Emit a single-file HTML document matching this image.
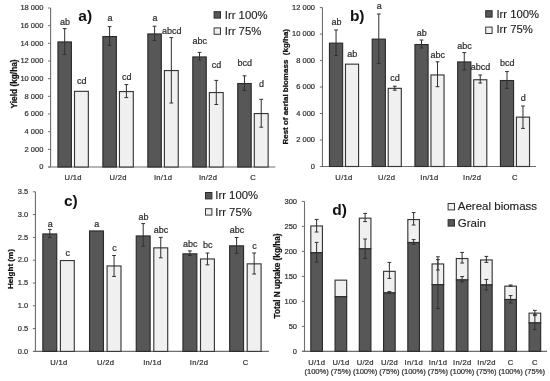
<!DOCTYPE html>
<html><head><meta charset="utf-8"><style>
html,body{margin:0;padding:0;background:#fff;}
body{width:550px;height:381px;overflow:hidden;}
svg{display:block;font-family:"Liberation Sans",sans-serif;will-change:transform;filter:blur(0.3px);}
</style></head><body>
<svg width="550" height="381" viewBox="0 0 550 381">
<rect width="550" height="381" fill="#fff"/>
<line x1="50.60" y1="8.00" x2="50.60" y2="167.00" stroke="#6e6e6e" stroke-width="1.1"/>
<line x1="48.00" y1="167.00" x2="50.60" y2="167.00" stroke="#6e6e6e" stroke-width="1"/>
<text x="43.40" y="169.20" font-size="7.5" text-anchor="end" font-weight="normal" fill="#333333" stroke="#333333" stroke-width="0.22" >0</text>
<line x1="48.00" y1="149.33" x2="50.60" y2="149.33" stroke="#6e6e6e" stroke-width="1"/>
<text x="43.40" y="151.53" font-size="7.5" text-anchor="end" font-weight="normal" fill="#333333" stroke="#333333" stroke-width="0.22" >2 000</text>
<line x1="48.00" y1="131.67" x2="50.60" y2="131.67" stroke="#6e6e6e" stroke-width="1"/>
<text x="43.40" y="133.87" font-size="7.5" text-anchor="end" font-weight="normal" fill="#333333" stroke="#333333" stroke-width="0.22" >4 000</text>
<line x1="48.00" y1="114.00" x2="50.60" y2="114.00" stroke="#6e6e6e" stroke-width="1"/>
<text x="43.40" y="116.20" font-size="7.5" text-anchor="end" font-weight="normal" fill="#333333" stroke="#333333" stroke-width="0.22" >6 000</text>
<line x1="48.00" y1="96.33" x2="50.60" y2="96.33" stroke="#6e6e6e" stroke-width="1"/>
<text x="43.40" y="98.53" font-size="7.5" text-anchor="end" font-weight="normal" fill="#333333" stroke="#333333" stroke-width="0.22" >8 000</text>
<line x1="48.00" y1="78.67" x2="50.60" y2="78.67" stroke="#6e6e6e" stroke-width="1"/>
<text x="43.40" y="80.87" font-size="7.5" text-anchor="end" font-weight="normal" fill="#333333" stroke="#333333" stroke-width="0.22" >10 000</text>
<line x1="48.00" y1="61.00" x2="50.60" y2="61.00" stroke="#6e6e6e" stroke-width="1"/>
<text x="43.40" y="63.20" font-size="7.5" text-anchor="end" font-weight="normal" fill="#333333" stroke="#333333" stroke-width="0.22" >12 000</text>
<line x1="48.00" y1="43.33" x2="50.60" y2="43.33" stroke="#6e6e6e" stroke-width="1"/>
<text x="43.40" y="45.53" font-size="7.5" text-anchor="end" font-weight="normal" fill="#333333" stroke="#333333" stroke-width="0.22" >14 000</text>
<line x1="48.00" y1="25.67" x2="50.60" y2="25.67" stroke="#6e6e6e" stroke-width="1"/>
<text x="43.40" y="27.87" font-size="7.5" text-anchor="end" font-weight="normal" fill="#333333" stroke="#333333" stroke-width="0.22" >16 000</text>
<line x1="48.00" y1="8.00" x2="50.60" y2="8.00" stroke="#6e6e6e" stroke-width="1"/>
<text x="43.40" y="10.20" font-size="7.5" text-anchor="end" font-weight="normal" fill="#333333" stroke="#333333" stroke-width="0.22" >18 000</text>
<line x1="48.50" y1="167.00" x2="275.35" y2="167.00" stroke="#6e6e6e" stroke-width="1.1"/>
<rect x="57.95" y="41.95" width="13.45" height="125.05" fill="#575757" stroke="#2b2b2b" stroke-width="1.15"/>
<rect x="74.50" y="91.35" width="13.85" height="75.65" fill="#f0f0f0" stroke="#383838" stroke-width="1.15"/>
<rect x="102.90" y="36.55" width="13.45" height="130.45" fill="#575757" stroke="#2b2b2b" stroke-width="1.15"/>
<rect x="119.45" y="91.55" width="13.85" height="75.45" fill="#f0f0f0" stroke="#383838" stroke-width="1.15"/>
<rect x="147.85" y="33.95" width="13.45" height="133.05" fill="#575757" stroke="#2b2b2b" stroke-width="1.15"/>
<rect x="164.40" y="70.55" width="13.85" height="96.45" fill="#f0f0f0" stroke="#383838" stroke-width="1.15"/>
<rect x="192.80" y="56.95" width="13.45" height="110.05" fill="#575757" stroke="#2b2b2b" stroke-width="1.15"/>
<rect x="209.35" y="92.55" width="13.85" height="74.45" fill="#f0f0f0" stroke="#383838" stroke-width="1.15"/>
<rect x="237.75" y="83.55" width="13.45" height="83.45" fill="#575757" stroke="#2b2b2b" stroke-width="1.15"/>
<rect x="254.30" y="113.55" width="13.85" height="53.45" fill="#f0f0f0" stroke="#383838" stroke-width="1.15"/>
<line x1="64.68" y1="28.60" x2="64.68" y2="54.40" stroke="#303030" stroke-width="1"/>
<line x1="62.78" y1="28.60" x2="66.58" y2="28.60" stroke="#303030" stroke-width="1"/>
<line x1="62.78" y1="54.40" x2="66.58" y2="54.40" stroke="#303030" stroke-width="1"/>
<text x="65.03" y="25.20" font-size="9" text-anchor="middle" font-weight="normal" fill="#2e2e2e" stroke="#2e2e2e" stroke-width="0.22" >ab</text>
<text x="81.77" y="83.80" font-size="9" text-anchor="middle" font-weight="normal" fill="#2e2e2e" stroke="#2e2e2e" stroke-width="0.22" >cd</text>
<line x1="109.62" y1="26.60" x2="109.62" y2="45.40" stroke="#303030" stroke-width="1"/>
<line x1="107.72" y1="26.60" x2="111.53" y2="26.60" stroke="#303030" stroke-width="1"/>
<line x1="107.72" y1="45.40" x2="111.53" y2="45.40" stroke="#303030" stroke-width="1"/>
<text x="109.97" y="21.40" font-size="9" text-anchor="middle" font-weight="normal" fill="#2e2e2e" stroke="#2e2e2e" stroke-width="0.22" >a</text>
<line x1="126.38" y1="84.60" x2="126.38" y2="97.60" stroke="#303030" stroke-width="1"/>
<line x1="124.47" y1="84.60" x2="128.28" y2="84.60" stroke="#303030" stroke-width="1"/>
<line x1="124.47" y1="97.60" x2="128.28" y2="97.60" stroke="#303030" stroke-width="1"/>
<text x="126.72" y="80.40" font-size="9" text-anchor="middle" font-weight="normal" fill="#2e2e2e" stroke="#2e2e2e" stroke-width="0.22" >cd</text>
<line x1="154.58" y1="26.20" x2="154.58" y2="40.40" stroke="#303030" stroke-width="1"/>
<line x1="152.68" y1="26.20" x2="156.48" y2="26.20" stroke="#303030" stroke-width="1"/>
<line x1="152.68" y1="40.40" x2="156.48" y2="40.40" stroke="#303030" stroke-width="1"/>
<text x="154.93" y="21.40" font-size="9" text-anchor="middle" font-weight="normal" fill="#2e2e2e" stroke="#2e2e2e" stroke-width="0.22" >a</text>
<line x1="171.33" y1="37.60" x2="171.33" y2="103.00" stroke="#303030" stroke-width="1"/>
<line x1="169.43" y1="37.60" x2="173.23" y2="37.60" stroke="#303030" stroke-width="1"/>
<line x1="169.43" y1="103.00" x2="173.23" y2="103.00" stroke="#303030" stroke-width="1"/>
<text x="171.68" y="34.00" font-size="9" text-anchor="middle" font-weight="normal" fill="#2e2e2e" stroke="#2e2e2e" stroke-width="0.22" >abcd</text>
<line x1="199.53" y1="52.40" x2="199.53" y2="60.00" stroke="#303030" stroke-width="1"/>
<line x1="197.63" y1="52.40" x2="201.43" y2="52.40" stroke="#303030" stroke-width="1"/>
<line x1="197.63" y1="60.00" x2="201.43" y2="60.00" stroke="#303030" stroke-width="1"/>
<text x="199.88" y="44.00" font-size="9" text-anchor="middle" font-weight="normal" fill="#2e2e2e" stroke="#2e2e2e" stroke-width="0.22" >abc</text>
<line x1="216.28" y1="80.40" x2="216.28" y2="104.50" stroke="#303030" stroke-width="1"/>
<line x1="214.38" y1="80.40" x2="218.18" y2="80.40" stroke="#303030" stroke-width="1"/>
<line x1="214.38" y1="104.50" x2="218.18" y2="104.50" stroke="#303030" stroke-width="1"/>
<text x="216.62" y="68.00" font-size="9" text-anchor="middle" font-weight="normal" fill="#2e2e2e" stroke="#2e2e2e" stroke-width="0.22" >cd</text>
<line x1="244.48" y1="75.80" x2="244.48" y2="90.30" stroke="#303030" stroke-width="1"/>
<line x1="242.58" y1="75.80" x2="246.38" y2="75.80" stroke="#303030" stroke-width="1"/>
<line x1="242.58" y1="90.30" x2="246.38" y2="90.30" stroke="#303030" stroke-width="1"/>
<text x="244.83" y="66.00" font-size="9" text-anchor="middle" font-weight="normal" fill="#2e2e2e" stroke="#2e2e2e" stroke-width="0.22" >bcd</text>
<line x1="261.23" y1="99.30" x2="261.23" y2="127.20" stroke="#303030" stroke-width="1"/>
<line x1="259.33" y1="99.30" x2="263.12" y2="99.30" stroke="#303030" stroke-width="1"/>
<line x1="259.33" y1="127.20" x2="263.12" y2="127.20" stroke="#303030" stroke-width="1"/>
<text x="261.58" y="86.90" font-size="9" text-anchor="middle" font-weight="normal" fill="#2e2e2e" stroke="#2e2e2e" stroke-width="0.22" >d</text>
<text x="73.23" y="180.10" font-size="7.6" text-anchor="middle" font-weight="normal" fill="#333333" stroke="#333333" stroke-width="0.22" letter-spacing="0.3">U/1d</text>
<text x="118.18" y="180.10" font-size="7.6" text-anchor="middle" font-weight="normal" fill="#333333" stroke="#333333" stroke-width="0.22" letter-spacing="0.3">U/2d</text>
<text x="163.12" y="180.10" font-size="7.6" text-anchor="middle" font-weight="normal" fill="#333333" stroke="#333333" stroke-width="0.22" letter-spacing="0.3">In/1d</text>
<text x="208.08" y="180.10" font-size="7.6" text-anchor="middle" font-weight="normal" fill="#333333" stroke="#333333" stroke-width="0.22" letter-spacing="0.3">In/2d</text>
<text x="253.03" y="180.10" font-size="7.6" text-anchor="middle" font-weight="normal" fill="#333333" stroke="#333333" stroke-width="0.22" letter-spacing="0.3">C</text>
<text x="0" y="0" font-size="8.3" font-weight="bold" fill="#111" stroke="#111" stroke-width="0.25" text-anchor="middle" transform="translate(14.00,83.90) rotate(-90)" dominant-baseline="central">Yield (kg/ha)</text>
<text x="85.20" y="20.70" font-size="15.5" text-anchor="middle" font-weight="bold" fill="#111" >a)</text>
<rect x="214.10" y="11.70" width="6.4" height="6.4" fill="#575757" stroke="#2b2b2b" stroke-width="1"/>
<text x="224.80" y="18.70" font-size="11.3" text-anchor="start" font-weight="normal" fill="#1e1e1e" stroke="#1e1e1e" stroke-width="0.15" >Irr 100%</text>
<rect x="214.10" y="27.90" width="6.4" height="6.4" fill="#f0f0f0" stroke="#383838" stroke-width="1"/>
<text x="224.80" y="34.80" font-size="11.3" text-anchor="start" font-weight="normal" fill="#1e1e1e" stroke="#1e1e1e" stroke-width="0.15" >Irr 75%</text>
<line x1="322.45" y1="7.60" x2="322.45" y2="166.50" stroke="#6e6e6e" stroke-width="1.1"/>
<line x1="319.85" y1="166.50" x2="322.45" y2="166.50" stroke="#6e6e6e" stroke-width="1"/>
<text x="315.00" y="168.70" font-size="7.5" text-anchor="end" font-weight="normal" fill="#333333" stroke="#333333" stroke-width="0.22" >0</text>
<line x1="319.85" y1="140.02" x2="322.45" y2="140.02" stroke="#6e6e6e" stroke-width="1"/>
<text x="315.00" y="142.22" font-size="7.5" text-anchor="end" font-weight="normal" fill="#333333" stroke="#333333" stroke-width="0.22" >2 000</text>
<line x1="319.85" y1="113.53" x2="322.45" y2="113.53" stroke="#6e6e6e" stroke-width="1"/>
<text x="315.00" y="115.73" font-size="7.5" text-anchor="end" font-weight="normal" fill="#333333" stroke="#333333" stroke-width="0.22" >4 000</text>
<line x1="319.85" y1="87.05" x2="322.45" y2="87.05" stroke="#6e6e6e" stroke-width="1"/>
<text x="315.00" y="89.25" font-size="7.5" text-anchor="end" font-weight="normal" fill="#333333" stroke="#333333" stroke-width="0.22" >6 000</text>
<line x1="319.85" y1="60.57" x2="322.45" y2="60.57" stroke="#6e6e6e" stroke-width="1"/>
<text x="315.00" y="62.77" font-size="7.5" text-anchor="end" font-weight="normal" fill="#333333" stroke="#333333" stroke-width="0.22" >8 000</text>
<line x1="319.85" y1="34.08" x2="322.45" y2="34.08" stroke="#6e6e6e" stroke-width="1"/>
<text x="315.00" y="36.28" font-size="7.5" text-anchor="end" font-weight="normal" fill="#333333" stroke="#333333" stroke-width="0.22" >10 000</text>
<line x1="319.85" y1="7.60" x2="322.45" y2="7.60" stroke="#6e6e6e" stroke-width="1"/>
<text x="315.00" y="9.80" font-size="7.5" text-anchor="end" font-weight="normal" fill="#333333" stroke="#333333" stroke-width="0.22" >12 000</text>
<line x1="320.50" y1="166.50" x2="536.10" y2="166.50" stroke="#6e6e6e" stroke-width="1.1"/>
<rect x="329.47" y="43.15" width="13.15" height="123.35" fill="#575757" stroke="#2b2b2b" stroke-width="1.15"/>
<rect x="345.47" y="64.15" width="13.10" height="102.35" fill="#f0f0f0" stroke="#383838" stroke-width="1.15"/>
<rect x="372.21" y="39.15" width="13.15" height="127.35" fill="#575757" stroke="#2b2b2b" stroke-width="1.15"/>
<rect x="388.21" y="88.35" width="13.10" height="78.15" fill="#f0f0f0" stroke="#383838" stroke-width="1.15"/>
<rect x="414.95" y="44.55" width="13.15" height="121.95" fill="#575757" stroke="#2b2b2b" stroke-width="1.15"/>
<rect x="430.95" y="74.95" width="13.10" height="91.55" fill="#f0f0f0" stroke="#383838" stroke-width="1.15"/>
<rect x="457.69" y="61.95" width="13.15" height="104.55" fill="#575757" stroke="#2b2b2b" stroke-width="1.15"/>
<rect x="473.69" y="79.75" width="13.10" height="86.75" fill="#f0f0f0" stroke="#383838" stroke-width="1.15"/>
<rect x="500.43" y="80.55" width="13.15" height="85.95" fill="#575757" stroke="#2b2b2b" stroke-width="1.15"/>
<rect x="516.43" y="117.15" width="13.10" height="49.35" fill="#f0f0f0" stroke="#383838" stroke-width="1.15"/>
<line x1="336.05" y1="30.00" x2="336.05" y2="55.60" stroke="#303030" stroke-width="1"/>
<line x1="334.15" y1="30.00" x2="337.94" y2="30.00" stroke="#303030" stroke-width="1"/>
<line x1="334.15" y1="55.60" x2="337.94" y2="55.60" stroke="#303030" stroke-width="1"/>
<text x="336.40" y="24.60" font-size="9" text-anchor="middle" font-weight="normal" fill="#2e2e2e" stroke="#2e2e2e" stroke-width="0.22" >ab</text>
<text x="352.37" y="56.60" font-size="9" text-anchor="middle" font-weight="normal" fill="#2e2e2e" stroke="#2e2e2e" stroke-width="0.22" >ab</text>
<line x1="378.79" y1="14.00" x2="378.79" y2="63.40" stroke="#303030" stroke-width="1"/>
<line x1="376.89" y1="14.00" x2="380.69" y2="14.00" stroke="#303030" stroke-width="1"/>
<line x1="376.89" y1="63.40" x2="380.69" y2="63.40" stroke="#303030" stroke-width="1"/>
<text x="379.14" y="9.40" font-size="9" text-anchor="middle" font-weight="normal" fill="#2e2e2e" stroke="#2e2e2e" stroke-width="0.22" >a</text>
<line x1="394.76" y1="86.20" x2="394.76" y2="90.20" stroke="#303030" stroke-width="1"/>
<line x1="392.86" y1="86.20" x2="396.66" y2="86.20" stroke="#303030" stroke-width="1"/>
<line x1="392.86" y1="90.20" x2="396.66" y2="90.20" stroke="#303030" stroke-width="1"/>
<text x="395.11" y="81.10" font-size="9" text-anchor="middle" font-weight="normal" fill="#2e2e2e" stroke="#2e2e2e" stroke-width="0.22" >cd</text>
<line x1="421.53" y1="40.00" x2="421.53" y2="48.00" stroke="#303030" stroke-width="1"/>
<line x1="419.63" y1="40.00" x2="423.43" y2="40.00" stroke="#303030" stroke-width="1"/>
<line x1="419.63" y1="48.00" x2="423.43" y2="48.00" stroke="#303030" stroke-width="1"/>
<text x="421.88" y="36.00" font-size="9" text-anchor="middle" font-weight="normal" fill="#2e2e2e" stroke="#2e2e2e" stroke-width="0.22" >ab</text>
<line x1="437.50" y1="61.80" x2="437.50" y2="86.70" stroke="#303030" stroke-width="1"/>
<line x1="435.60" y1="61.80" x2="439.40" y2="61.80" stroke="#303030" stroke-width="1"/>
<line x1="435.60" y1="86.70" x2="439.40" y2="86.70" stroke="#303030" stroke-width="1"/>
<text x="437.85" y="58.30" font-size="9" text-anchor="middle" font-weight="normal" fill="#2e2e2e" stroke="#2e2e2e" stroke-width="0.22" >abc</text>
<line x1="464.26" y1="52.60" x2="464.26" y2="70.00" stroke="#303030" stroke-width="1"/>
<line x1="462.37" y1="52.60" x2="466.16" y2="52.60" stroke="#303030" stroke-width="1"/>
<line x1="462.37" y1="70.00" x2="466.16" y2="70.00" stroke="#303030" stroke-width="1"/>
<text x="464.62" y="48.60" font-size="9" text-anchor="middle" font-weight="normal" fill="#2e2e2e" stroke="#2e2e2e" stroke-width="0.22" >abc</text>
<line x1="480.24" y1="75.00" x2="480.24" y2="83.00" stroke="#303030" stroke-width="1"/>
<line x1="478.34" y1="75.00" x2="482.14" y2="75.00" stroke="#303030" stroke-width="1"/>
<line x1="478.34" y1="83.00" x2="482.14" y2="83.00" stroke="#303030" stroke-width="1"/>
<text x="480.59" y="69.60" font-size="9" text-anchor="middle" font-weight="normal" fill="#2e2e2e" stroke="#2e2e2e" stroke-width="0.22" >abcd</text>
<line x1="507.00" y1="71.60" x2="507.00" y2="88.40" stroke="#303030" stroke-width="1"/>
<line x1="505.11" y1="71.60" x2="508.90" y2="71.60" stroke="#303030" stroke-width="1"/>
<line x1="505.11" y1="88.40" x2="508.90" y2="88.40" stroke="#303030" stroke-width="1"/>
<text x="507.36" y="66.00" font-size="9" text-anchor="middle" font-weight="normal" fill="#2e2e2e" stroke="#2e2e2e" stroke-width="0.22" >bcd</text>
<line x1="522.98" y1="106.00" x2="522.98" y2="128.40" stroke="#303030" stroke-width="1"/>
<line x1="521.08" y1="106.00" x2="524.88" y2="106.00" stroke="#303030" stroke-width="1"/>
<line x1="521.08" y1="128.40" x2="524.88" y2="128.40" stroke="#303030" stroke-width="1"/>
<text x="523.33" y="101.20" font-size="9" text-anchor="middle" font-weight="normal" fill="#2e2e2e" stroke="#2e2e2e" stroke-width="0.22" >d</text>
<text x="343.97" y="179.90" font-size="7.6" text-anchor="middle" font-weight="normal" fill="#333333" stroke="#333333" stroke-width="0.22" letter-spacing="0.3">U/1d</text>
<text x="386.71" y="179.90" font-size="7.6" text-anchor="middle" font-weight="normal" fill="#333333" stroke="#333333" stroke-width="0.22" letter-spacing="0.3">U/2d</text>
<text x="429.45" y="179.90" font-size="7.6" text-anchor="middle" font-weight="normal" fill="#333333" stroke="#333333" stroke-width="0.22" letter-spacing="0.3">In/1d</text>
<text x="472.19" y="179.90" font-size="7.6" text-anchor="middle" font-weight="normal" fill="#333333" stroke="#333333" stroke-width="0.22" letter-spacing="0.3">In/2d</text>
<text x="514.93" y="179.90" font-size="7.6" text-anchor="middle" font-weight="normal" fill="#333333" stroke="#333333" stroke-width="0.22" letter-spacing="0.3">C</text>
<text x="0" y="0" font-size="8" font-weight="bold" fill="#111" stroke="#111" stroke-width="0.25" text-anchor="middle" transform="translate(285.80,86.80) rotate(-90)" dominant-baseline="central">Rest of aerial biomass&#160;&#160;(kg/ha)</text>
<text x="357.20" y="20.90" font-size="15.5" text-anchor="middle" font-weight="bold" fill="#111" >b)</text>
<rect x="485.70" y="10.70" width="6.4" height="6.4" fill="#575757" stroke="#2b2b2b" stroke-width="1"/>
<text x="496.40" y="17.50" font-size="11.3" text-anchor="start" font-weight="normal" fill="#1e1e1e" stroke="#1e1e1e" stroke-width="0.15" >Irr 100%</text>
<rect x="485.70" y="27.10" width="6.4" height="6.4" fill="#f0f0f0" stroke="#383838" stroke-width="1"/>
<text x="496.40" y="33.40" font-size="11.3" text-anchor="start" font-weight="normal" fill="#1e1e1e" stroke="#1e1e1e" stroke-width="0.15" >Irr 75%</text>
<line x1="35.45" y1="191.80" x2="35.45" y2="351.40" stroke="#6e6e6e" stroke-width="1.1"/>
<line x1="32.85" y1="351.40" x2="35.45" y2="351.40" stroke="#6e6e6e" stroke-width="1"/>
<text x="28.20" y="353.60" font-size="7.5" text-anchor="end" font-weight="normal" fill="#333333" stroke="#333333" stroke-width="0.22" >0.0</text>
<line x1="32.85" y1="328.60" x2="35.45" y2="328.60" stroke="#6e6e6e" stroke-width="1"/>
<text x="28.20" y="330.80" font-size="7.5" text-anchor="end" font-weight="normal" fill="#333333" stroke="#333333" stroke-width="0.22" >0.5</text>
<line x1="32.85" y1="305.80" x2="35.45" y2="305.80" stroke="#6e6e6e" stroke-width="1"/>
<text x="28.20" y="308.00" font-size="7.5" text-anchor="end" font-weight="normal" fill="#333333" stroke="#333333" stroke-width="0.22" >1.0</text>
<line x1="32.85" y1="283.00" x2="35.45" y2="283.00" stroke="#6e6e6e" stroke-width="1"/>
<text x="28.20" y="285.20" font-size="7.5" text-anchor="end" font-weight="normal" fill="#333333" stroke="#333333" stroke-width="0.22" >1.5</text>
<line x1="32.85" y1="260.20" x2="35.45" y2="260.20" stroke="#6e6e6e" stroke-width="1"/>
<text x="28.20" y="262.40" font-size="7.5" text-anchor="end" font-weight="normal" fill="#333333" stroke="#333333" stroke-width="0.22" >2.0</text>
<line x1="32.85" y1="237.40" x2="35.45" y2="237.40" stroke="#6e6e6e" stroke-width="1"/>
<text x="28.20" y="239.60" font-size="7.5" text-anchor="end" font-weight="normal" fill="#333333" stroke="#333333" stroke-width="0.22" >2.5</text>
<line x1="32.85" y1="214.60" x2="35.45" y2="214.60" stroke="#6e6e6e" stroke-width="1"/>
<text x="28.20" y="216.80" font-size="7.5" text-anchor="end" font-weight="normal" fill="#333333" stroke="#333333" stroke-width="0.22" >3.0</text>
<line x1="32.85" y1="191.80" x2="35.45" y2="191.80" stroke="#6e6e6e" stroke-width="1"/>
<text x="28.20" y="194.00" font-size="7.5" text-anchor="end" font-weight="normal" fill="#333333" stroke="#333333" stroke-width="0.22" >3.5</text>
<line x1="33.30" y1="351.40" x2="268.95" y2="351.40" stroke="#6e6e6e" stroke-width="1.1"/>
<rect x="42.85" y="233.95" width="13.90" height="117.45" fill="#575757" stroke="#2b2b2b" stroke-width="1.15"/>
<rect x="60.40" y="260.55" width="13.90" height="90.85" fill="#f0f0f0" stroke="#383838" stroke-width="1.15"/>
<rect x="89.55" y="230.95" width="13.90" height="120.45" fill="#575757" stroke="#2b2b2b" stroke-width="1.15"/>
<rect x="107.10" y="265.95" width="13.90" height="85.45" fill="#f0f0f0" stroke="#383838" stroke-width="1.15"/>
<rect x="136.25" y="235.95" width="13.90" height="115.45" fill="#575757" stroke="#2b2b2b" stroke-width="1.15"/>
<rect x="153.80" y="247.85" width="13.90" height="103.55" fill="#f0f0f0" stroke="#383838" stroke-width="1.15"/>
<rect x="182.95" y="253.85" width="13.90" height="97.55" fill="#575757" stroke="#2b2b2b" stroke-width="1.15"/>
<rect x="200.50" y="258.95" width="13.90" height="92.45" fill="#f0f0f0" stroke="#383838" stroke-width="1.15"/>
<rect x="229.65" y="245.85" width="13.90" height="105.55" fill="#575757" stroke="#2b2b2b" stroke-width="1.15"/>
<rect x="247.20" y="263.85" width="13.90" height="87.55" fill="#f0f0f0" stroke="#383838" stroke-width="1.15"/>
<line x1="49.80" y1="229.40" x2="49.80" y2="237.60" stroke="#303030" stroke-width="1"/>
<line x1="47.90" y1="229.40" x2="51.70" y2="229.40" stroke="#303030" stroke-width="1"/>
<line x1="47.90" y1="237.60" x2="51.70" y2="237.60" stroke="#303030" stroke-width="1"/>
<text x="50.15" y="226.60" font-size="9" text-anchor="middle" font-weight="normal" fill="#2e2e2e" stroke="#2e2e2e" stroke-width="0.22" >a</text>
<text x="67.70" y="255.60" font-size="9" text-anchor="middle" font-weight="normal" fill="#2e2e2e" stroke="#2e2e2e" stroke-width="0.22" >c</text>
<text x="96.85" y="226.60" font-size="9" text-anchor="middle" font-weight="normal" fill="#2e2e2e" stroke="#2e2e2e" stroke-width="0.22" >a</text>
<line x1="114.05" y1="255.50" x2="114.05" y2="276.40" stroke="#303030" stroke-width="1"/>
<line x1="112.15" y1="255.50" x2="115.95" y2="255.50" stroke="#303030" stroke-width="1"/>
<line x1="112.15" y1="276.40" x2="115.95" y2="276.40" stroke="#303030" stroke-width="1"/>
<text x="114.40" y="251.10" font-size="9" text-anchor="middle" font-weight="normal" fill="#2e2e2e" stroke="#2e2e2e" stroke-width="0.22" >c</text>
<line x1="143.20" y1="223.60" x2="143.20" y2="246.30" stroke="#303030" stroke-width="1"/>
<line x1="141.30" y1="223.60" x2="145.10" y2="223.60" stroke="#303030" stroke-width="1"/>
<line x1="141.30" y1="246.30" x2="145.10" y2="246.30" stroke="#303030" stroke-width="1"/>
<text x="143.55" y="220.00" font-size="9" text-anchor="middle" font-weight="normal" fill="#2e2e2e" stroke="#2e2e2e" stroke-width="0.22" >ab</text>
<line x1="160.75" y1="237.40" x2="160.75" y2="257.80" stroke="#303030" stroke-width="1"/>
<line x1="158.85" y1="237.40" x2="162.65" y2="237.40" stroke="#303030" stroke-width="1"/>
<line x1="158.85" y1="257.80" x2="162.65" y2="257.80" stroke="#303030" stroke-width="1"/>
<text x="161.10" y="233.20" font-size="9" text-anchor="middle" font-weight="normal" fill="#2e2e2e" stroke="#2e2e2e" stroke-width="0.22" >abc</text>
<line x1="189.90" y1="250.90" x2="189.90" y2="255.50" stroke="#303030" stroke-width="1"/>
<line x1="188.00" y1="250.90" x2="191.80" y2="250.90" stroke="#303030" stroke-width="1"/>
<line x1="188.00" y1="255.50" x2="191.80" y2="255.50" stroke="#303030" stroke-width="1"/>
<text x="190.25" y="246.90" font-size="9" text-anchor="middle" font-weight="normal" fill="#2e2e2e" stroke="#2e2e2e" stroke-width="0.22" >abc</text>
<line x1="207.45" y1="253.00" x2="207.45" y2="264.80" stroke="#303030" stroke-width="1"/>
<line x1="205.55" y1="253.00" x2="209.35" y2="253.00" stroke="#303030" stroke-width="1"/>
<line x1="205.55" y1="264.80" x2="209.35" y2="264.80" stroke="#303030" stroke-width="1"/>
<text x="207.80" y="248.20" font-size="9" text-anchor="middle" font-weight="normal" fill="#2e2e2e" stroke="#2e2e2e" stroke-width="0.22" >bc</text>
<line x1="236.60" y1="237.50" x2="236.60" y2="253.30" stroke="#303030" stroke-width="1"/>
<line x1="234.70" y1="237.50" x2="238.50" y2="237.50" stroke="#303030" stroke-width="1"/>
<line x1="234.70" y1="253.30" x2="238.50" y2="253.30" stroke="#303030" stroke-width="1"/>
<text x="236.95" y="233.20" font-size="9" text-anchor="middle" font-weight="normal" fill="#2e2e2e" stroke="#2e2e2e" stroke-width="0.22" >abc</text>
<line x1="254.15" y1="253.00" x2="254.15" y2="274.00" stroke="#303030" stroke-width="1"/>
<line x1="252.25" y1="253.00" x2="256.05" y2="253.00" stroke="#303030" stroke-width="1"/>
<line x1="252.25" y1="274.00" x2="256.05" y2="274.00" stroke="#303030" stroke-width="1"/>
<text x="254.50" y="248.50" font-size="9" text-anchor="middle" font-weight="normal" fill="#2e2e2e" stroke="#2e2e2e" stroke-width="0.22" >c</text>
<text x="58.95" y="365.20" font-size="7.6" text-anchor="middle" font-weight="normal" fill="#333333" stroke="#333333" stroke-width="0.22" letter-spacing="0.3">U/1d</text>
<text x="105.65" y="365.20" font-size="7.6" text-anchor="middle" font-weight="normal" fill="#333333" stroke="#333333" stroke-width="0.22" letter-spacing="0.3">U/2d</text>
<text x="152.35" y="365.20" font-size="7.6" text-anchor="middle" font-weight="normal" fill="#333333" stroke="#333333" stroke-width="0.22" letter-spacing="0.3">In/1d</text>
<text x="199.05" y="365.20" font-size="7.6" text-anchor="middle" font-weight="normal" fill="#333333" stroke="#333333" stroke-width="0.22" letter-spacing="0.3">In/2d</text>
<text x="245.75" y="365.20" font-size="7.6" text-anchor="middle" font-weight="normal" fill="#333333" stroke="#333333" stroke-width="0.22" letter-spacing="0.3">C</text>
<text x="0" y="0" font-size="8.1" font-weight="bold" fill="#111" stroke="#111" stroke-width="0.25" text-anchor="middle" transform="translate(10.90,269.10) rotate(-90)" dominant-baseline="central">Height (m)</text>
<text x="70.90" y="206.10" font-size="15.5" text-anchor="middle" font-weight="bold" fill="#111" >c)</text>
<rect x="205.50" y="192.50" width="6.4" height="6.4" fill="#575757" stroke="#2b2b2b" stroke-width="1"/>
<text x="215.30" y="199.40" font-size="11.3" text-anchor="start" font-weight="normal" fill="#1e1e1e" stroke="#1e1e1e" stroke-width="0.15" >Irr 100%</text>
<rect x="205.50" y="208.70" width="6.4" height="6.4" fill="#f0f0f0" stroke="#383838" stroke-width="1"/>
<text x="215.30" y="215.50" font-size="11.3" text-anchor="start" font-weight="normal" fill="#1e1e1e" stroke="#1e1e1e" stroke-width="0.15" >Irr 75%</text>
<line x1="304.50" y1="201.40" x2="304.50" y2="351.35" stroke="#6e6e6e" stroke-width="1.1"/>
<line x1="301.90" y1="351.35" x2="304.50" y2="351.35" stroke="#6e6e6e" stroke-width="1"/>
<text x="297.00" y="353.55" font-size="7.5" text-anchor="end" font-weight="normal" fill="#333333" stroke="#333333" stroke-width="0.22" >0</text>
<line x1="301.90" y1="326.36" x2="304.50" y2="326.36" stroke="#6e6e6e" stroke-width="1"/>
<text x="297.00" y="328.56" font-size="7.5" text-anchor="end" font-weight="normal" fill="#333333" stroke="#333333" stroke-width="0.22" >50</text>
<line x1="301.90" y1="301.37" x2="304.50" y2="301.37" stroke="#6e6e6e" stroke-width="1"/>
<text x="297.00" y="303.57" font-size="7.5" text-anchor="end" font-weight="normal" fill="#333333" stroke="#333333" stroke-width="0.22" >100</text>
<line x1="301.90" y1="276.38" x2="304.50" y2="276.38" stroke="#6e6e6e" stroke-width="1"/>
<text x="297.00" y="278.57" font-size="7.5" text-anchor="end" font-weight="normal" fill="#333333" stroke="#333333" stroke-width="0.22" >150</text>
<line x1="301.90" y1="251.38" x2="304.50" y2="251.38" stroke="#6e6e6e" stroke-width="1"/>
<text x="297.00" y="253.58" font-size="7.5" text-anchor="end" font-weight="normal" fill="#333333" stroke="#333333" stroke-width="0.22" >200</text>
<line x1="301.90" y1="226.39" x2="304.50" y2="226.39" stroke="#6e6e6e" stroke-width="1"/>
<text x="297.00" y="228.59" font-size="7.5" text-anchor="end" font-weight="normal" fill="#333333" stroke="#333333" stroke-width="0.22" >250</text>
<line x1="301.90" y1="201.40" x2="304.50" y2="201.40" stroke="#6e6e6e" stroke-width="1"/>
<text x="297.00" y="203.60" font-size="7.5" text-anchor="end" font-weight="normal" fill="#333333" stroke="#333333" stroke-width="0.22" >300</text>
<line x1="302.20" y1="351.35" x2="547.00" y2="351.35" stroke="#6e6e6e" stroke-width="1.1"/>
<rect x="310.82" y="225.95" width="11.60" height="26.75" fill="#f0f0f0" stroke="#383838" stroke-width="1.15"/>
<rect x="310.82" y="252.75" width="11.60" height="98.60" fill="#575757" stroke="#2b2b2b" stroke-width="1.15"/>
<rect x="335.07" y="280.15" width="11.60" height="16.55" fill="#f0f0f0" stroke="#383838" stroke-width="1.15"/>
<rect x="335.07" y="296.75" width="11.60" height="54.60" fill="#575757" stroke="#2b2b2b" stroke-width="1.15"/>
<rect x="359.32" y="218.15" width="11.60" height="30.65" fill="#f0f0f0" stroke="#383838" stroke-width="1.15"/>
<rect x="359.32" y="248.85" width="11.60" height="102.50" fill="#575757" stroke="#2b2b2b" stroke-width="1.15"/>
<rect x="383.57" y="271.35" width="11.60" height="21.55" fill="#f0f0f0" stroke="#383838" stroke-width="1.15"/>
<rect x="383.57" y="292.95" width="11.60" height="58.40" fill="#575757" stroke="#2b2b2b" stroke-width="1.15"/>
<rect x="407.82" y="219.55" width="11.60" height="22.95" fill="#f0f0f0" stroke="#383838" stroke-width="1.15"/>
<rect x="407.82" y="242.55" width="11.60" height="108.80" fill="#575757" stroke="#2b2b2b" stroke-width="1.15"/>
<rect x="432.07" y="263.95" width="11.60" height="20.65" fill="#f0f0f0" stroke="#383838" stroke-width="1.15"/>
<rect x="432.07" y="284.65" width="11.60" height="66.70" fill="#575757" stroke="#2b2b2b" stroke-width="1.15"/>
<rect x="456.32" y="258.55" width="11.60" height="21.35" fill="#f0f0f0" stroke="#383838" stroke-width="1.15"/>
<rect x="456.32" y="279.95" width="11.60" height="71.40" fill="#575757" stroke="#2b2b2b" stroke-width="1.15"/>
<rect x="480.57" y="259.95" width="11.60" height="24.95" fill="#f0f0f0" stroke="#383838" stroke-width="1.15"/>
<rect x="480.57" y="284.95" width="11.60" height="66.40" fill="#575757" stroke="#2b2b2b" stroke-width="1.15"/>
<rect x="504.82" y="286.15" width="11.60" height="13.35" fill="#f0f0f0" stroke="#383838" stroke-width="1.15"/>
<rect x="504.82" y="299.55" width="11.60" height="51.80" fill="#575757" stroke="#2b2b2b" stroke-width="1.15"/>
<rect x="529.07" y="313.15" width="11.60" height="9.75" fill="#f0f0f0" stroke="#383838" stroke-width="1.15"/>
<rect x="529.07" y="322.95" width="11.60" height="28.40" fill="#575757" stroke="#2b2b2b" stroke-width="1.15"/>
<line x1="316.62" y1="219.40" x2="316.62" y2="232.00" stroke="#303030" stroke-width="1"/>
<line x1="314.73" y1="219.40" x2="318.52" y2="219.40" stroke="#303030" stroke-width="1"/>
<line x1="314.73" y1="232.00" x2="318.52" y2="232.00" stroke="#303030" stroke-width="1"/>
<line x1="316.62" y1="242.40" x2="316.62" y2="262.00" stroke="#303030" stroke-width="1"/>
<line x1="314.73" y1="242.40" x2="318.52" y2="242.40" stroke="#303030" stroke-width="1"/>
<line x1="314.73" y1="262.00" x2="318.52" y2="262.00" stroke="#303030" stroke-width="1"/>
<line x1="365.12" y1="213.40" x2="365.12" y2="221.60" stroke="#303030" stroke-width="1"/>
<line x1="363.23" y1="213.40" x2="367.02" y2="213.40" stroke="#303030" stroke-width="1"/>
<line x1="363.23" y1="221.60" x2="367.02" y2="221.60" stroke="#303030" stroke-width="1"/>
<line x1="365.12" y1="239.00" x2="365.12" y2="258.40" stroke="#303030" stroke-width="1"/>
<line x1="363.23" y1="239.00" x2="367.02" y2="239.00" stroke="#303030" stroke-width="1"/>
<line x1="363.23" y1="258.40" x2="367.02" y2="258.40" stroke="#303030" stroke-width="1"/>
<line x1="389.38" y1="262.40" x2="389.38" y2="278.40" stroke="#303030" stroke-width="1"/>
<line x1="387.48" y1="262.40" x2="391.27" y2="262.40" stroke="#303030" stroke-width="1"/>
<line x1="387.48" y1="278.40" x2="391.27" y2="278.40" stroke="#303030" stroke-width="1"/>
<line x1="389.38" y1="291.60" x2="389.38" y2="293.20" stroke="#303030" stroke-width="1"/>
<line x1="387.48" y1="291.60" x2="391.27" y2="291.60" stroke="#303030" stroke-width="1"/>
<line x1="387.48" y1="293.20" x2="391.27" y2="293.20" stroke="#303030" stroke-width="1"/>
<line x1="413.62" y1="212.60" x2="413.62" y2="225.00" stroke="#303030" stroke-width="1"/>
<line x1="411.73" y1="212.60" x2="415.52" y2="212.60" stroke="#303030" stroke-width="1"/>
<line x1="411.73" y1="225.00" x2="415.52" y2="225.00" stroke="#303030" stroke-width="1"/>
<line x1="413.62" y1="239.60" x2="413.62" y2="244.40" stroke="#303030" stroke-width="1"/>
<line x1="411.73" y1="239.60" x2="415.52" y2="239.60" stroke="#303030" stroke-width="1"/>
<line x1="411.73" y1="244.40" x2="415.52" y2="244.40" stroke="#303030" stroke-width="1"/>
<line x1="437.88" y1="259.60" x2="437.88" y2="270.00" stroke="#303030" stroke-width="1"/>
<line x1="435.98" y1="259.60" x2="439.77" y2="259.60" stroke="#303030" stroke-width="1"/>
<line x1="435.98" y1="270.00" x2="439.77" y2="270.00" stroke="#303030" stroke-width="1"/>
<line x1="437.88" y1="256.80" x2="437.88" y2="308.50" stroke="#303030" stroke-width="1"/>
<line x1="435.98" y1="256.80" x2="439.77" y2="256.80" stroke="#303030" stroke-width="1"/>
<line x1="435.98" y1="308.50" x2="439.77" y2="308.50" stroke="#303030" stroke-width="1"/>
<line x1="462.12" y1="252.40" x2="462.12" y2="263.00" stroke="#303030" stroke-width="1"/>
<line x1="460.23" y1="252.40" x2="464.02" y2="252.40" stroke="#303030" stroke-width="1"/>
<line x1="460.23" y1="263.00" x2="464.02" y2="263.00" stroke="#303030" stroke-width="1"/>
<line x1="462.12" y1="276.60" x2="462.12" y2="282.00" stroke="#303030" stroke-width="1"/>
<line x1="460.23" y1="276.60" x2="464.02" y2="276.60" stroke="#303030" stroke-width="1"/>
<line x1="460.23" y1="282.00" x2="464.02" y2="282.00" stroke="#303030" stroke-width="1"/>
<line x1="486.38" y1="256.40" x2="486.38" y2="262.40" stroke="#303030" stroke-width="1"/>
<line x1="484.48" y1="256.40" x2="488.27" y2="256.40" stroke="#303030" stroke-width="1"/>
<line x1="484.48" y1="262.40" x2="488.27" y2="262.40" stroke="#303030" stroke-width="1"/>
<line x1="486.38" y1="279.40" x2="486.38" y2="290.00" stroke="#303030" stroke-width="1"/>
<line x1="484.48" y1="279.40" x2="488.27" y2="279.40" stroke="#303030" stroke-width="1"/>
<line x1="484.48" y1="290.00" x2="488.27" y2="290.00" stroke="#303030" stroke-width="1"/>
<line x1="510.62" y1="285.00" x2="510.62" y2="286.20" stroke="#303030" stroke-width="1"/>
<line x1="508.73" y1="285.00" x2="512.52" y2="285.00" stroke="#303030" stroke-width="1"/>
<line x1="508.73" y1="286.20" x2="512.52" y2="286.20" stroke="#303030" stroke-width="1"/>
<line x1="510.62" y1="295.60" x2="510.62" y2="303.00" stroke="#303030" stroke-width="1"/>
<line x1="508.73" y1="295.60" x2="512.52" y2="295.60" stroke="#303030" stroke-width="1"/>
<line x1="508.73" y1="303.00" x2="512.52" y2="303.00" stroke="#303030" stroke-width="1"/>
<line x1="534.88" y1="310.40" x2="534.88" y2="314.40" stroke="#303030" stroke-width="1"/>
<line x1="532.98" y1="310.40" x2="536.77" y2="310.40" stroke="#303030" stroke-width="1"/>
<line x1="532.98" y1="314.40" x2="536.77" y2="314.40" stroke="#303030" stroke-width="1"/>
<line x1="534.88" y1="315.60" x2="534.88" y2="329.60" stroke="#303030" stroke-width="1"/>
<line x1="532.98" y1="315.60" x2="536.77" y2="315.60" stroke="#303030" stroke-width="1"/>
<line x1="532.98" y1="329.60" x2="536.77" y2="329.60" stroke="#303030" stroke-width="1"/>
<text x="316.77" y="365.20" font-size="7.6" text-anchor="middle" font-weight="normal" fill="#333333" stroke="#333333" stroke-width="0.22" letter-spacing="0.3">U/1d</text>
<text x="316.62" y="374.40" font-size="7.6" text-anchor="middle" font-weight="normal" fill="#333333" stroke="#333333" stroke-width="0.22" >(100%)</text>
<text x="341.02" y="365.20" font-size="7.6" text-anchor="middle" font-weight="normal" fill="#333333" stroke="#333333" stroke-width="0.22" letter-spacing="0.3">U/1d</text>
<text x="340.88" y="374.40" font-size="7.6" text-anchor="middle" font-weight="normal" fill="#333333" stroke="#333333" stroke-width="0.22" >(75%)</text>
<text x="365.27" y="365.20" font-size="7.6" text-anchor="middle" font-weight="normal" fill="#333333" stroke="#333333" stroke-width="0.22" letter-spacing="0.3">U/2d</text>
<text x="365.12" y="374.40" font-size="7.6" text-anchor="middle" font-weight="normal" fill="#333333" stroke="#333333" stroke-width="0.22" >(100%)</text>
<text x="389.52" y="365.20" font-size="7.6" text-anchor="middle" font-weight="normal" fill="#333333" stroke="#333333" stroke-width="0.22" letter-spacing="0.3">U/2d</text>
<text x="389.38" y="374.40" font-size="7.6" text-anchor="middle" font-weight="normal" fill="#333333" stroke="#333333" stroke-width="0.22" >(75%)</text>
<text x="413.77" y="365.20" font-size="7.6" text-anchor="middle" font-weight="normal" fill="#333333" stroke="#333333" stroke-width="0.22" letter-spacing="0.3">In/1d</text>
<text x="413.62" y="374.40" font-size="7.6" text-anchor="middle" font-weight="normal" fill="#333333" stroke="#333333" stroke-width="0.22" >(100%)</text>
<text x="438.02" y="365.20" font-size="7.6" text-anchor="middle" font-weight="normal" fill="#333333" stroke="#333333" stroke-width="0.22" letter-spacing="0.3">In/1d</text>
<text x="437.88" y="374.40" font-size="7.6" text-anchor="middle" font-weight="normal" fill="#333333" stroke="#333333" stroke-width="0.22" >(75%)</text>
<text x="462.27" y="365.20" font-size="7.6" text-anchor="middle" font-weight="normal" fill="#333333" stroke="#333333" stroke-width="0.22" letter-spacing="0.3">In/2d</text>
<text x="462.12" y="374.40" font-size="7.6" text-anchor="middle" font-weight="normal" fill="#333333" stroke="#333333" stroke-width="0.22" >(100%)</text>
<text x="486.52" y="365.20" font-size="7.6" text-anchor="middle" font-weight="normal" fill="#333333" stroke="#333333" stroke-width="0.22" letter-spacing="0.3">In/2d</text>
<text x="486.38" y="374.40" font-size="7.6" text-anchor="middle" font-weight="normal" fill="#333333" stroke="#333333" stroke-width="0.22" >(75%)</text>
<text x="510.77" y="365.20" font-size="7.6" text-anchor="middle" font-weight="normal" fill="#333333" stroke="#333333" stroke-width="0.22" letter-spacing="0.3">C</text>
<text x="510.62" y="374.40" font-size="7.6" text-anchor="middle" font-weight="normal" fill="#333333" stroke="#333333" stroke-width="0.22" >(100%)</text>
<text x="535.02" y="365.20" font-size="7.6" text-anchor="middle" font-weight="normal" fill="#333333" stroke="#333333" stroke-width="0.22" letter-spacing="0.3">C</text>
<text x="534.88" y="374.40" font-size="7.6" text-anchor="middle" font-weight="normal" fill="#333333" stroke="#333333" stroke-width="0.22" >(75%)</text>
<text x="0" y="0" font-size="8.2" font-weight="bold" fill="#111" stroke="#111" stroke-width="0.25" text-anchor="middle" transform="translate(277.30,276.00) rotate(-90)" dominant-baseline="central">Total N uptake (kg/ha)</text>
<text x="339.50" y="214.50" font-size="15.5" text-anchor="middle" font-weight="bold" fill="#111" >d)</text>
<rect x="448.10" y="203.50" width="6.4" height="6.4" fill="#f0f0f0" stroke="#383838" stroke-width="1"/>
<text x="457.80" y="210.20" font-size="11.5" text-anchor="start" font-weight="normal" fill="#1e1e1e" stroke="#1e1e1e" stroke-width="0.15" >Aereal biomass</text>
<rect x="448.10" y="219.70" width="6.4" height="6.4" fill="#575757" stroke="#2b2b2b" stroke-width="1"/>
<text x="457.80" y="226.60" font-size="11.5" text-anchor="start" font-weight="normal" fill="#1e1e1e" stroke="#1e1e1e" stroke-width="0.15" >Grain</text>
</svg>
</body></html>
